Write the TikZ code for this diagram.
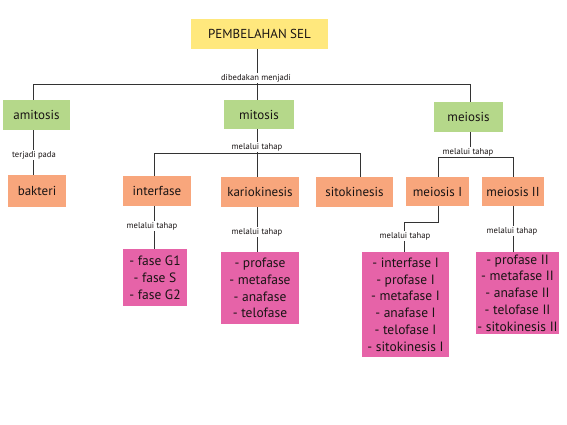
\documentclass[tikz,border=0pt]{standalone}
\usepackage{fontspec}
\setmainfont{PT Sans}
\definecolor{cyellow}{RGB}{255,232,125}
\definecolor{cgreen}{RGB}{181,216,138}
\definecolor{corange}{RGB}{248,166,124}
\definecolor{cpink}{RGB}{230,99,168}
\definecolor{cline}{RGB}{51,51,51}
\definecolor{ctext}{RGB}{25,20,20}
\tikzset{
  box/.style={inner sep=0pt, outer sep=0pt, align=center, text=ctext, font=\fontsize{13}{15}\selectfont},
  ybox/.style={box, fill=cyellow},
  gbox/.style={box, fill=cgreen},
  obox/.style={box, fill=corange},
  pbox/.style={box, fill=cpink, font=\fontsize{13.5}{16.8}\selectfont},
  lbl/.style={fill=white, inner sep=0.6pt, text=ctext, font=\fontsize{8.6}{10}\selectfont},
  conn/.style={draw=cline, line width=0.9pt}
}
\begin{document}
\begin{tikzpicture}[x=1pt,y=-1pt]
\useasboundingbox[fill=white] (0,0) rectangle (567,425);
% boxes
\node[ybox, minimum width=137pt, minimum height=30pt] (title) at (259.5,34) {PEMBELAHAN SEL};
\node[gbox, minimum width=67pt, minimum height=30pt] (amitosis) at (36.5,115) {amitosis};
\node[gbox, minimum width=70pt, minimum height=29pt] (mitosis) at (259,114.5) {mitosis};
\node[gbox, minimum width=69pt, minimum height=30pt] (meiosis) at (468.5,117) {meiosis};
\node[obox, minimum width=58pt, minimum height=32pt] (bakteri) at (37,191) {bakteri};
\node[obox, minimum width=68pt, minimum height=30pt] (interfase) at (157,191) {interfase};
\node[obox, minimum width=78pt, minimum height=30pt] (kario) at (260,192) {kariokinesis};
\node[obox, minimum width=77pt, minimum height=30pt] (sito) at (354.5,192) {sitokinesis};
\node[obox, minimum width=63pt, minimum height=29pt] (meiI) at (437.5,191.5) {meiosis I};
\node[obox, minimum width=62pt, minimum height=29pt] (meiII) at (513,191.5) {meiosis II};
\node[pbox, minimum width=64pt, minimum height=57pt] (fase) at (155,277.5) {- fase G1\\- fase S\\- fase G2};
\node[pbox, minimum width=78pt, minimum height=72pt] (pro) at (260,288) {- profase\\- metafase\\- anafase\\- telofase};
\node[pbox, minimum width=87pt, minimum height=105pt] (proI) at (405.5,304.5) {- interfase I\\- profase I\\- metafase I\\- anafase I\\- telofase I\\- sitokinesis I};
\node[pbox, minimum width=83pt, minimum height=82pt] (proII) at (517.5,293) {- profase II\\- metafase II\\- anafase II\\- telofase II\\- sitokinesis II};
% bus coordinates
\coordinate (b1) at (0,84);
\coordinate (b2) at (0,153);
\coordinate (b3) at (0,157);
\coordinate (b4) at (0,222);
\coordinate (xa) at (33,0);
\coordinate (xt) at (257,0);
\coordinate (xm) at (470,0);
\coordinate (xi) at (154,0);
\coordinate (xs) at (360,0);
\coordinate (x1) at (438,0);
\coordinate (x2) at (513,0);
\coordinate (xl) at (404,0);
% connectors level 1
\draw[conn] (title.south -| xt) -- (xt |- b1);
\draw[conn] (amitosis.north -| xa) -- (xa |- b1) -- (xm |- b1) -- (meiosis.north -| xm);
\draw[conn] (xt |- b1) -- (mitosis.north -| xt);
% amitosis
\draw[conn] (amitosis.south -| xa) -- (bakteri.north -| xa);
% mitosis
\draw[conn] (mitosis.south -| xt) -- (xt |- b2);
\draw[conn] (interfase.north -| xi) -- (xi |- b2) -- (xs |- b2) -- (sito.north -| xs);
\draw[conn] (xt |- b2) -- (kario.north -| xt);
\draw[conn] (interfase.south -| xi) -- (fase.north -| xi);
\draw[conn] (kario.south -| xt) -- (pro.north -| xt);
% meiosis
\draw[conn] (meiosis.south -| xm) -- (xm |- b3);
\draw[conn] (meiI.north -| x1) -- (x1 |- b3) -- (x2 |- b3) -- (meiII.north -| x2);
\draw[conn] (meiI.south -| x1) -- (x1 |- b4) -- (xl |- b4) -- (proI.north -| xl);
\draw[conn] (meiII.south -| x2) -- (proII.north -| x2);
% labels
\node[lbl] (l1) at (256,78) {dibedakan menjadi};
\node[lbl] (l2) at (34,155) {terjadi pada};
\node[lbl] (l3) at (257,147) {melalui tahap};
\node[lbl] (l4) at (468,152) {melalui tahap};
\node[lbl] (l5) at (152,226) {melalui tahap};
\node[lbl] (l6) at (257,232) {melalui tahap};
\node[lbl] (l7) at (405,236) {melalui tahap};
\node[lbl] (l8) at (512,231) {melalui tahap};
\end{tikzpicture}
\end{document}
